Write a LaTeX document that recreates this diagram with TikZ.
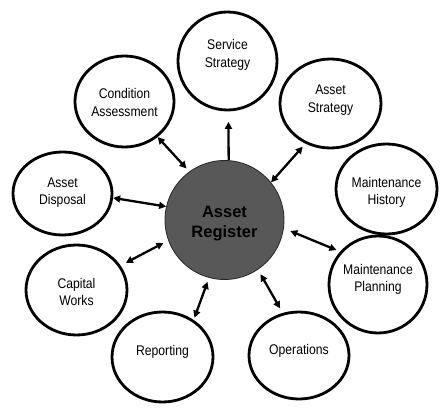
\documentclass[tikz,border=0pt]{standalone}
\usepackage{fontspec}
\setmainfont{Liberation Sans}
\newfontfamily\lblfont[FakeStretch=0.87]{Liberation Sans}
\usetikzlibrary{shapes.geometric,arrows.meta}
\definecolor{regfill}{RGB}{88,88,88}
\begin{document}
\begin{tikzpicture}[x=1pt,y=-1pt,
  bub/.style={ellipse, draw=black, line width=2.8pt, fill=white, inner sep=0pt},
  txt/.style={font=\lblfont\fontsize{14}{17.5}\selectfont, align=center, text=black, inner sep=0pt},
  regtxt/.style={font=\fontsize{16.5}{19.5}\selectfont\bfseries, align=center, text=black, inner sep=0pt},
  conn/.style={line width=2.3pt, draw=black, arrows={Triangle[length=7pt,width=7pt]-Triangle[length=7pt,width=7pt]}},
  oneway/.style={line width=2.3pt, draw=black, arrows={-Triangle[length=7pt,width=7pt]}}
]
\useasboundingbox (0,0) rectangle (448,412);
\fill[white] (0,0) rectangle (448,412);

% central node
\node[circle, fill=regfill, draw=black!85, line width=0.8pt, minimum size=119pt, inner sep=0pt] (reg) at (224.5,220) {};
\node[regtxt] (regt) at (224.5,223.5) {Asset\\Register};

% outer bubbles
\node[bub, minimum width=99pt,  minimum height=98pt] (ss) at (227.5,61) {};
\node[bub, minimum width=101pt, minimum height=89pt] (as) at (330.5,103.5) {};
\node[bub, minimum width=101pt, minimum height=90pt] (mh) at (386.5,189) {};
\node[bub, minimum width=98pt,  minimum height=97pt] (mp) at (378,284.5) {};
\node[bub, minimum width=100pt, minimum height=87pt] (op) at (299,355.5) {};
\node[bub, minimum width=101pt, minimum height=90pt] (rp) at (162.5,357) {};
\node[bub, minimum width=101pt, minimum height=90pt] (cw) at (76.5,290) {};
\node[bub, minimum width=99pt,  minimum height=83pt] (ad) at (62.5,193.5) {};
\node[bub, minimum width=99pt,  minimum height=91pt] (ca) at (124.5,101.5) {};

% labels
\node[txt] (sst) at (227.5,55) {Service\\Strategy};
\node[txt] (ast) at (330.5,100) {Asset\\Strategy};
\node[txt] (mht) at (386.5,192.5) {Maintenance\\History};
\node[txt] (mpt) at (378,279.5) {Maintenance\\Planning};
\node[txt] (opt) at (299,350.5) {Operations};
\node[txt] (rpt) at (162.5,351.5) {Reporting};
\node[txt] (cwt) at (76.5,292) {Capital\\Works};
\node[txt] (adt) at (62.5,192.5) {Asset\\Disposal};
\node[txt] (cat) at (124.5,102.5) {Condition\\Assessment};

% connectors
\draw[oneway, shorten >=10.5pt] (reg.86) -- (ss.-89);
\draw[conn, shorten >=4pt] (reg.39) -- (as.238);
\draw[conn, shorten <=7pt, shorten >=4pt] (reg.-8) -- (mp.139);
\draw[conn, shorten <=5.3pt, shorten >=5.2pt] (reg.-56) -- (op.111);
\draw[conn, shorten <=4.3pt, shorten >=2.4pt] (reg.255) -- (rp.50);
\draw[conn, shorten <=5.4pt, shorten >=5.9pt] (reg.200) -- (cw.29);
\draw[conn] (reg.167) -- (ad.-5);
\draw[conn, shorten <=4.2pt] (reg.126) -- (ca.-47);
\end{tikzpicture}
\end{document}
